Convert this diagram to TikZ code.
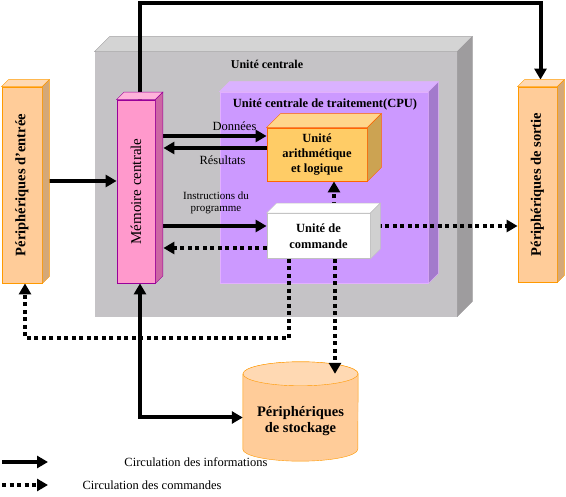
\documentclass[tikz,border=0pt]{standalone}
\usepackage{fontspec}
\setmainfont{Liberation Serif}
\usepackage{graphicx}
\usetikzlibrary{arrows.meta}
\pgfdeclarelayer{fg}
\pgfsetlayers{main,fg}
\definecolor{ucfront}{RGB}{197,195,198}
\definecolor{uctop}{RGB}{212,212,212}
\definecolor{ucside}{RGB}{158,156,158}
\definecolor{cpufront}{RGB}{204,153,255}
\definecolor{cputop}{RGB}{218,178,255}
\definecolor{cpuside}{RGB}{163,122,204}
\definecolor{cpuborder}{RGB}{226,176,255}
\definecolor{memfront}{RGB}{255,153,204}
\definecolor{memtop}{RGB}{255,178,218}
\definecolor{memside}{RGB}{204,102,163}
\definecolor{memborder}{RGB}{153,0,153}
\definecolor{peach}{RGB}{255,204,153}
\definecolor{peachtop}{RGB}{255,217,179}
\definecolor{peachside}{RGB}{212,168,120}
\definecolor{peachborder}{RGB}{255,153,0}
\definecolor{alufront}{RGB}{255,204,102}
\definecolor{alutop}{RGB}{255,214,140}
\definecolor{aluside}{RGB}{204,163,82}
\definecolor{aluborder}{RGB}{255,102,0}
\definecolor{cmdside}{RGB}{208,208,208}
\definecolor{cmdborder}{RGB}{192,192,192}
\newcommand\boxfaces[5]{%
  \filldraw[fill=#3,draw=#5] (#1.north west) -- ++(#2,-#2) -- ([shift={(#2,-#2)}]#1.north east) -- (#1.north east) -- cycle;
  \filldraw[fill=#4,draw=#5] (#1.north east) -- ([shift={(#2,-#2)}]#1.north east) -- ([shift={(#2,-#2)}]#1.south east) -- (#1.south east) -- cycle;}
\begin{document}
\begin{tikzpicture}[x=1pt,y=-1pt,
  face/.style={draw, inner sep=0pt, align=center, line width=0.8pt},
  info/.style={line width=4pt, -{Triangle[length=11pt,width=12pt]}},
  infoboth/.style={line width=4pt, {Triangle[length=11pt,width=12pt]}-{Triangle[length=11pt,width=12pt]}},
  cmdl/.style={line width=4pt, dash pattern=on 4pt off 3.5pt, -{Triangle[length=11pt,width=12pt]}},
  lbl/.style={inner sep=0pt, align=center}]
\useasboundingbox (0,0) rectangle (566,497);
% central unit
\node[face, fill=ucfront, draw=ucfront, minimum width=362pt, minimum height=264pt] (uc) at (276,184) {};
\boxfaces{uc}{15}{uctop}{ucside}{ucside}
\node[lbl, font=\fontsize{12}{14}\selectfont\bfseries] (uclabel) at (267,64) {Unité centrale};
% CPU
\node[face, fill=cpufront, draw=cpuborder, minimum width=208pt, minimum height=191pt] (cpu) at (324,187.5) {};
\boxfaces{cpu}{10}{cputop}{cpuside}{cpuborder}
\node[lbl, font=\fontsize{12.5}{14}\selectfont\bfseries] (cpulabel) at (325,104) {Unité centrale de traitement(CPU)};
% front boxes
\begin{pgfonlayer}{fg}
\node[face, fill=memfront, draw=memborder, minimum width=38pt, minimum height=183pt] (mem) at (136,191.5)
  {\rotatebox{90}{\fontsize{15}{18}\selectfont Mémoire centrale}};
\boxfaces{mem}{7.5}{memtop}{memside}{memborder}
\node[face, fill=peach, draw=peachborder, minimum width=40pt, minimum height=196pt] (inp) at (22,185)
  {\rotatebox{90}{\fontsize{14.5}{18}\selectfont\bfseries Périphériques d'entrée}};
\boxfaces{inp}{7}{peachtop}{peachside}{peachborder}
\node[face, fill=peach, draw=peachborder, minimum width=39pt, minimum height=195pt] (outp) at (537.5,184.5)
  {\rotatebox{90}{\fontsize{14.5}{18}\selectfont\bfseries Périphériques de sortie}};
\boxfaces{outp}{7}{peachtop}{peachside}{peachborder}
\node[face, fill=alufront, draw=aluborder, minimum width=100pt, minimum height=53pt,
  font=\fontsize{12.5}{15}\selectfont\bfseries] (alu) at (317,154.5) {Unité\\arithmétique\\et logique};
\boxfaces{alu}{14}{alutop}{aluside}{aluborder}
\node[face, fill=white, draw=cmdborder, minimum width=103pt, minimum height=45pt,
  font=\fontsize{12.5}{16}\selectfont\bfseries] (cmd) at (318.5,236) {Unité de\\commande};
\boxfaces{cmd}{10}{white}{cmdside}{cmdborder}
\node[inner sep=0pt, minimum width=115pt, minimum height=87pt, align=center,
  font=\fontsize{14.5}{16}\selectfont\bfseries] (sto) at (300.5,417.5) {\\[2pt]Périphériques\\de stockage};
\end{pgfonlayer}
% storage cylinder
\filldraw[fill=peach, draw=peachborder] (sto.north west) -- ([yshift=12pt]sto.south west)
  arc[start angle=180, end angle=360, x radius=57.5pt, y radius=12pt] -- (sto.north east)
  arc[start angle=0, end angle=180, x radius=57.5pt, y radius=12pt] -- cycle;
\filldraw[fill=peachtop, draw=peachborder] (sto.north) ellipse[x radius=57.5pt, y radius=12pt];
% labels
\node[lbl, font=\fontsize{12.5}{14}\selectfont] (donnees) at (234.5,126) {Données};
\node[lbl, font=\fontsize{12.5}{14}\selectfont] (resultats) at (222.5,160) {Résultats};
\node[lbl, font=\fontsize{11}{12}\selectfont] (instr) at (216,203) {Instructions du\\programme};
% information flow
\coordinate (turn) at (540.5,3);
\draw[info] ([xshift=4pt]mem.north) |- (turn) -- ([shift={(3,-7)}]outp.north);
\draw[info] (inp.east |- 0,181) -- (mem.west |- 0,181);
\draw[info] (mem.east |- 0,136) -- (alu.west |- 0,136);
\draw[info, shorten >=8pt] (alu.west |- 0,148) -- (mem.east |- 0,148);
\draw[info] (mem.east |- 0,226) -- (cmd.west |- 0,226);
\draw[infoboth] ([xshift=4pt]mem.south) |- (sto.west);
% command flow
\draw[cmdl, shorten >=8pt] (cmd.west |- 0,248) -- (mem.east |- 0,248);
\draw[cmdl] (cmd.north -| 334,0) -- (alu.south -| 334,0);
\draw[cmdl] (cmd.east |- 0,226) -- (outp.west |- 0,226);
\coordinate (lowturn) at (289,338);
\draw[cmdl] (cmd.south -| lowturn) -- (lowturn) -| ([xshift=3pt]inp.south);
\draw[cmdl] (cmd.south -| 335,0) -- (sto.north -| 335,0);
% legend
\coordinate (l1a) at (2,462);
\coordinate (l1b) at (48,462);
\coordinate (l2a) at (2,485);
\coordinate (l2b) at (48,485);
\draw[info] (l1a) -- (l1b);
\draw[cmdl] (l2a) -- (l2b);
\node[lbl, font=\fontsize{12.5}{14}\selectfont] (leg1) at (196,462) {Circulation des informations};
\node[lbl, font=\fontsize{12.5}{14}\selectfont] (leg2) at (152,485) {Circulation des commandes};
\end{tikzpicture}
\end{document}
